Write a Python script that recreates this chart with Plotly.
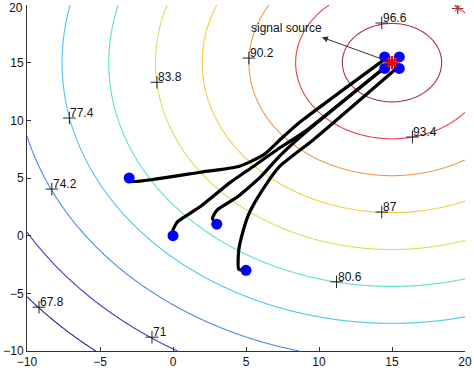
import numpy as np
import plotly.graph_objects as go

# ---- data ----
levels = [67.8, 71.0, 74.2, 77.4, 80.6, 83.8, 87.0, 90.2, 93.4, 96.6]
level_colors = ["#2e1f8e", "#4038c8", "#4a86e8", "#4cc6ea", "#5ee0cc",
                "#cfe35a", "#f2cf3e", "#f2984a", "#e0404a", "#a8363f"]
label_x = [-9.18, -1.44, -8.3, -7.1, 11.2, -1.1, 14.3, 5.2, 16.4, 14.3]
label_y = [-6.2, -8.8, 4.04, 10.2, -4.0, 13.3, 2.05, 15.4, 8.55, 18.44]
label_text = ["67.8", "71", "74.2", "77.4", "80.6", "83.8", "87", "90.2", "93.4", "96.6"]

source_x, source_y = 15.0, 15.0
peak_level = 100.0

start_x = [-3.0, 0.0, 3.0, 5.0]
start_y = [5.0, 0.0, 1.0, -3.0]
end_x = [14.5, 15.5, 14.5, 15.5]
end_y = [15.5, 15.5, 14.5, 14.5]

path_a_x = [-3.0, -2.8, 1.85, 4.5, 6.2, 7.4, 8.7, 14.4]
path_a_y = [5.0, 4.7, 5.5, 6.0, 7.0, 8.4, 9.85, 15.2]
path_b_x = [0.0, 0.0, 0.3, 1.85, 3.9, 5.5, 7.3, 9.0, 14.9]
path_b_y = [0.0, 0.5, 1.2, 2.5, 4.6, 6.0, 7.6, 9.0, 15.0]
path_c_x = [3.0, 2.7, 3.0, 4.4, 6.0, 7.3, 9.3, 14.9]
path_c_y = [1.0, 1.5, 2.2, 3.35, 5.1, 6.9, 9.2, 15.0]
path_d_x = [5.0, 4.5, 4.5, 4.8, 5.2, 6.1, 7.3, 9.6, 15.4]
path_d_y = [-3.0, -2.9, -1.3, 0.4, 1.9, 3.9, 6.0, 8.3, 14.6]
paths = [(path_a_x, path_a_y), (path_b_x, path_b_y),
         (path_c_x, path_c_y), (path_d_x, path_d_y)]

corner_x, corner_y = [19.5], [19.7]

x_ticks = [-10, -5, 0, 5, 10, 15, 20]
y_ticks = [-10, -5, 0, 5, 10, 15, 20]
y_ticktext = ["\u221210", "\u22125", "0", "5", "10", "15", ""]  # top label drawn below
y_top_label = "20"

FONT = "Liberation Sans, Arial, Helvetica"

# ---- field ----
gx = np.linspace(-10, 20, 301)
gy = np.linspace(-10, 20, 301)
GX, GY = np.meshgrid(gx, gy)
Z = peak_level - np.hypot(GX - source_x, GY - source_y)

fig = go.Figure()
for lev, col in zip(levels, level_colors):
    fig.add_trace(go.Contour(
        x=gx, y=gy, z=Z, showscale=False, hoverinfo="skip",
        contours=dict(start=lev, end=lev, size=1, coloring="lines"),
        colorscale=[[0, col], [1, col]], line=dict(width=1.1),
    ))

fig.add_trace(go.Scatter(
    x=label_x, y=label_y, mode="markers",
    marker=dict(symbol="cross-thin-open", size=9, color="#222",
                line=dict(color="#222", width=1)),
    showlegend=False, hoverinfo="skip",
))
for lx, ly, lt in zip(label_x, label_y, label_text):
    fig.add_annotation(
        x=lx, y=ly, text=lt, showarrow=False, xanchor="left", yanchor="bottom",
        xshift=-1, yshift=-4, font=dict(family=FONT, size=12, color="#111"),
    )

for px, py in paths:
    fig.add_trace(go.Scatter(
        x=px, y=py, mode="lines",
        line=dict(color="black", width=3.2, shape="spline", smoothing=0.5),
        showlegend=False, hoverinfo="skip",
    ))

fig.add_trace(go.Scatter(
    x=start_x + end_x, y=start_y + end_y, mode="markers",
    marker=dict(color="#0000ff", size=11), showlegend=False, hoverinfo="skip",
))

fig.add_trace(go.Scatter(
    x=[source_x], y=[source_y], mode="markers",
    marker=dict(symbol="asterisk-open", size=11, color="red",
                line=dict(color="red", width=2.5)),
    showlegend=False, hoverinfo="skip",
))

fig.add_trace(go.Scatter(
    x=corner_x, y=corner_y, mode="markers",
    marker=dict(symbol="cross-thin-open", size=8, color="#222",
                line=dict(color="#222", width=1)),
    showlegend=False, hoverinfo="skip",
))
fig.add_trace(go.Scatter(
    x=corner_x, y=corner_y, mode="markers",
    marker=dict(symbol="asterisk-open", size=7, color="#d03030",
                line=dict(color="#d03030", width=1)),
    showlegend=False, hoverinfo="skip",
))

fig.add_annotation(
    x=10.2, y=17.2, ax=source_x, ay=source_y, axref="x", ayref="y",
    text="", showarrow=True, arrowhead=2, arrowsize=1.2, arrowwidth=1,
    arrowcolor="#333", standoff=0, startstandoff=0,
)
fig.add_annotation(
    x=7.74, y=18.0, text="signal source", showarrow=False,
    font=dict(family=FONT, size=12, color="#111"),
)
fig.add_annotation(
    xref="paper", x=0, yref="y", y=y_ticks[-1], text=y_top_label,
    showarrow=False, xanchor="right", yanchor="middle", xshift=-2, yshift=-3,
    font=dict(family=FONT, size=12, color="#111"),
)

axis_common = dict(
    range=[-10, 20], showgrid=False, zeroline=False, showline=True,
    linecolor="#333", linewidth=1, ticks="inside", ticklen=4, tickcolor="#333",
    tickfont=dict(family=FONT, size=12, color="#111"), automargin=False,
    ticklabeloverflow="allow",
)
fig.update_xaxes(tickvals=x_ticks, **axis_common)
fig.update_yaxes(tickvals=y_ticks, ticktext=y_ticktext, **axis_common)

fig.update_layout(
    width=474, height=368,
    margin=dict(l=27, r=9, t=5, b=17),
    plot_bgcolor="white", paper_bgcolor="white",
    showlegend=False,
)

fig.write_html(
    "out.html",
    config={"displayModeBar": False},
    post_script="document.body.style.margin='0';document.body.style.overflow='hidden';",
)
